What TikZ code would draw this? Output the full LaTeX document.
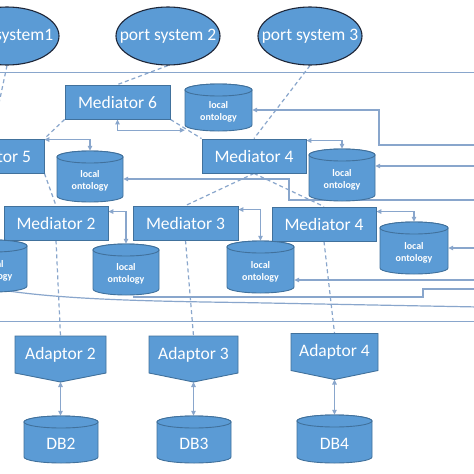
\documentclass[tikz,border=0pt]{standalone}
\usepackage{fontspec}
\setmainfont{Carlito}
\usetikzlibrary{arrows.meta,shapes.geometric,backgrounds}
\definecolor{boxfill}{HTML}{5B9BD5}
\definecolor{boxline}{HTML}{41719C}
\definecolor{conn}{RGB}{137,166,204}
\definecolor{ellline}{RGB}{30,38,56}
% name, cx, cy, rx, half height, ry, text, text style
\newcommand\mkcyl[8]{%
  \filldraw[cylsty] ({#2-#4},{#3-#5+#6}) -- ({#2-#4},{#3+#5-#6})
    arc[start angle=180,end angle=360,x radius=#4pt,y radius=#6pt]
    -- ({#2+#4},{#3-#5+#6})
    arc[start angle=0,end angle=180,x radius=#4pt,y radius=#6pt] -- cycle;
  \draw[cylsty] (#2,{#3-#5+#6}) ellipse[x radius=#4pt,y radius=#6pt];
  \node[inner sep=0,minimum width={2*#4},minimum height={2*#5}] (#1) at (#2,#3) {};
  \node[#8] (#1-t) at (#2,{#3+0.8*#6}) {#7};
}
% name, cx, top, half width, text
\newcommand\mkadapt[5]{%
  \filldraw[cylsty] ({#2-#4},#3) -- ({#2+#4},#3) -- ({#2+#4},{#3+37})
    -- (#2,{#3+46}) -- ({#2-#4},{#3+37}) -- cycle;
  \node[bigtext,minimum width={2*#4},minimum height=37] (#1) at (#2,{#3+18.5}) {#5};
  \coordinate (#1tip) at (#2,{#3+46});
}
\begin{document}
\begin{tikzpicture}[x=1pt,y=-1pt,
  bigtext/.style={text=white,inner sep=0,font=\fontsize{17.5}{20}\selectfont},
  med/.style={bigtext,draw=boxline,fill=boxfill,line width=0.9pt,minimum width=105,minimum height=34},
  sys/.style={bigtext,ellipse,draw=ellline,fill=boxfill,line width=1.1pt,minimum width=104,minimum height=58},
  cylsty/.style={draw=boxline,fill=boxfill,line width=0.9pt},
  ontotext/.style={text=white,inner sep=0,align=center,font=\fontsize{10}{12}\selectfont\bfseries},
  wire/.style={draw=conn,line width=1.2pt},
  dashwire/.style={draw=conn,line width=1.2pt,dash pattern=on 4pt off 3pt},
  arrowend/.style={-{Triangle[length=5pt,width=4.5pt]}},
  bothends/.style={{Triangle[length=5pt,width=4.5pt]}-{Triangle[length=5pt,width=4.5pt]}}
]
\useasboundingbox (0,0) rectangle (474,474);
\clip (0,0) rectangle (474,474);

% systems
\node[sys] (E1) at (7,36) {\makebox[0pt]{port system1}};
\node[sys] (E2) at (168,36) {\makebox[0pt]{port system 2}};
\node[sys] (E3) at (310,36) {\makebox[0pt]{port system 3}};

% mediators
\node[med] (M6) at (117.5,102) {Mediator 6};
\node[med,minimum width=104] (M4u) at (254,156) {Mediator 4};
\node[med] (M5) at (-8.5,156) {Mediator 5};
\node[med,minimum width=104] (M2) at (56,223) {Mediator 2};
\node[med] (M3) at (185.5,223) {Mediator 3};
\node[med,minimum width=104] (M4l) at (324,224) {Mediator 4};

% local ontologies
\mkcyl{C6}{218.5}{107.5}{33.5}{23.5}{6}{local\\ontology}{ontotext}
\mkcyl{C4u}{342}{175}{33}{26}{6}{local\\ontology}{ontotext}
\mkcyl{C5}{90}{176.5}{33}{25.5}{6}{local\\ontology}{ontotext}
\mkcyl{C2}{-6}{266}{33}{26}{6}{local\\ontology}{ontotext}
\mkcyl{C23}{126}{269.5}{33}{25.5}{6}{local\\ontology}{ontotext}
\mkcyl{C3}{260.5}{267}{33.5}{26}{6}{local\\ontology}{ontotext}
\mkcyl{C4l}{414}{248}{34}{26}{6}{local\\ontology}{ontotext}

% adaptors
\mkadapt{A2}{60.5}{336}{45.5}{Adaptor 2}
\mkadapt{A3}{193.5}{336}{44.5}{Adaptor 3}
\mkadapt{A4}{334.5}{333.5}{43.5}{Adaptor 4}

% databases
\mkcyl{DB2}{61}{439.5}{37}{23.5}{6}{DB2}{bigtext}
\mkcyl{DB3}{194}{439.5}{37}{23.5}{6}{DB3}{bigtext}
\mkcyl{DB4}{334.5}{439}{37.5}{24}{6}{DB4}{bigtext}

% free ends and bends of the long connectors
\coordinate (eL1) at (-5,72.5);  \coordinate (eR1) at (479,72.5);
\coordinate (eR2) at (479,145);  \coordinate (k2) at (379,110);
\coordinate (eR3) at (479,166);
\coordinate (eR4) at (479,200);  \coordinate (k4) at (289,179);
\coordinate (eR5) at (479,248);
\coordinate (eR6) at (479,280);
\coordinate (eR7) at (479,289);  \coordinate (k7) at (423,297); \coordinate (k7b) at (133,297);
\coordinate (eL8) at (-5,289);   \coordinate (k8) at (240,302.5); \coordinate (eR8) at (479,307);
\coordinate (eL9) at (-5,321.5); \coordinate (eR9) at (479,321.5);

\begin{scope}[on background layer]
\fill[white] (0,0) rectangle (474,474);
% long solid connectors
\draw[wire] (eL1) -- (eR1);
\draw[wire,arrowend] (eR2) -| (k2) -- (C6.east |- k2);
\draw[wire,arrowend] (eR3) -- (C4u.east |- eR3);
\draw[wire,arrowend] (eR4) -| (k4) -- (C5.east |- k4);
\draw[wire,arrowend] (eR5) -- (C4l.east |- eR5);
\draw[wire,arrowend] (eR6) -- (C3.east |- eR6);
\draw[wire] (eR7) -| (k7) -- (k7b);
\draw[wire] (eL8) .. controls (50,298) and (120,301) .. (k8) -- (eR8);
\draw[wire] (eL9) -- (eR9);
% mediator <-> local ontology
\draw[wire,bothends] (M6.south) |- ([yshift=1pt]C6.south west);
\draw[wire,bothends] ([yshift=-1pt]M5.north east) -| (C5.north);
\draw[wire,bothends] ([yshift=-2pt]M4u.north east) -| (C4u.north);
\draw[wire,bothends] ([yshift=-6pt]M2.north east) -| (C23.north);
\draw[wire,bothends] ([yshift=-4pt]M3.north east) -| (C3.north);
\draw[wire,bothends] ([yshift=-5pt]M4l.north east) -| (C4l.north);
% adaptor <-> database
\draw[wire,bothends] (A2tip) -- (A2tip |- DB2.north);
\draw[wire,bothends] (A3tip) -- (A3tip |- DB3.north);
\draw[wire,bothends] (A4tip) -- (A4tip |- DB4.north);
% dashed hierarchy
\draw[dashwire] (E1.south) -- (M5.north);
\draw[dashwire] (E2.south) -- (M6.north);
\draw[dashwire] (E3.south) -- (M4u.north);
\draw[dashwire] (M6.south west) -- (M5.north east);
\draw[dashwire] (M6.south east) -- (M4u.north west);
\draw[dashwire] (M4u.south) -- (M3.north);
\draw[dashwire] (M4u.south) -- (M4l.north);
\draw[dashwire] (M5.south east) -- (M2.north);
\draw[dashwire] (M2.south) -- (A2.north);
\draw[dashwire] (M3.south) -- (A3.north);
\draw[dashwire] (M4l.south) -- (A4.north);
\end{scope}
\end{tikzpicture}
\end{document}
